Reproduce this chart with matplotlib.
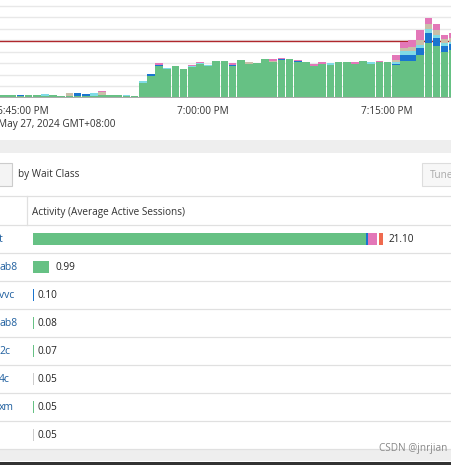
import matplotlib
matplotlib.use("Agg")
import matplotlib.pyplot as plt
import numpy as np

plt.rcParams['font.family'] = ['Open Sans', 'DejaVu Sans']

GREEN, BLUE, CYAN, PINK, RED, TAN, ORANGE = '#66c184', '#1a75cf', '#7fdbe6', '#e377b8', '#ef6a4f', '#c9bfa8', '#f5b14c'

# top chart: stacked average active sessions per interval
cpu = [0.23,0.25,0.2,0.25,0.25,0.2,0.25,0.2,0.2,0.2,0.2,0.2,0.25,0.3,0.25,0.15,0.15,1.3,1.94,2.75,2.5,2.8,2.55,2.65,2.95,2.75,3.2,3.2,2.75,3.3,2.95,3.0,3.4,3.1,3.3,3.4,3.1,3.1,2.8,2.95,2.85,3.1,3.1,2.95,3.2,2.95,3.1,3.1,2.85,3.2,3.2,3.75,4.8,4.5,4.0,4.2]
userio = [0,0,0.1,0,0,0,0,0,0,0.25,0.15,0,0,0,0,0,0,0,0.17,0.08,0,0,0,0.08,0,0,0,0,0.08,0,0,0,0,0,0.05,0,0.08,0,0,0,0,0,0,0,0,0,0,0,0.08,0.55,0.55,0.55,0.8,0.7,0.5,0.5]
other = [0,0,0,0,0,0.15,0,0,0,0,0,0.2,0.05,0,0,0.1,0,0.2,0,0.05,0.12,0,0,0.05,0.05,0.12,0,0,0.05,0,0,0,0,0,0,0,0,0,0,0,0.15,0,0,0,0,0.2,0,0,0.2,0.3,0.3,0.3,0.4,0.3,0.3,0.2]
conc = [0,0,0,0,0,0,0,0,0.2,0,0,0,0.2,0,0,0,0,0,0,0,0,0,0,0,0,0,0,0,0,0,0.15,0,0,0.12,0,0,0,0,0,0,0,0,0,0,0,0,0,0,0.2,0.25,0.4,0.4,0.45,0.4,0.3,0.3]
pink = [0,0,0,0,0,0,0,0,0,0,0,0,0.15,0,0,0,0,0,0,0.15,0,0,0,0.12,0.15,0,0,0,0.15,0,0,0,0,0.12,0.1,0,0.12,0,0.15,0.15,0,0,0,0.15,0,0,0.15,0,0.4,0.6,0.55,0.9,0.5,0.5,0.4,0.4]

W, H = 452, 465
fig = plt.figure(figsize=(W/100, H/100), dpi=100)

def fax(top, bottom, left=0, right=W):
    return fig.add_axes([left/W, 1-bottom/H, (right-left)/W, (bottom-top)/H])

ax = fax(0, 98)
x = np.arange(len(cpu))
b = np.zeros(len(cpu))
for vals, c in [(cpu, GREEN), (userio, BLUE), (other, CYAN), (conc, TAN), (pink, PINK)]:
    ax.bar(x, vals, width=0.94, bottom=b, color=c, zorder=3)
    b += np.array(vals)
ax.set_xlim(-0.5, 54.9)
ax.set_ylim(0, 8.5)
for g in np.arange(1, 8.5, 1):
    ax.axhline(g, color='#e8e8e8', lw=1, zorder=1)
ax.axhline(4.97, color='#b0282d', lw=1, zorder=2)
ax.axhline(0, color='#aaaaaa', lw=1.5, zorder=4)
ax.axis('off')

o = fax(98, H)
o.set_xlim(0, W); o.set_ylim(H-98, 0)
o.axis('off')
def T(px, py, s, **kw):
    o.text(px, py-98, s, va='center', **kw)
def R(x0, y0, x1, y1, **kw):
    o.add_patch(plt.Rectangle((x0, y0-98), x1-x0, y1-y0, **kw))

fs = 7.2
T(-3, 111, '6:45:00 PM', fontsize=fs, color='#333')
T(203, 111, '7:00:00 PM', fontsize=fs, color='#333', ha='center')
T(387, 111, '7:15:00 PM', fontsize=fs, color='#333', ha='center')
T(-2, 124, 'May 27, 2024 GMT+08:00', fontsize=fs, color='#333')
R(0, 140, W, 153, color='#eeeeee', lw=0)
R(-5, 163, 12, 186, facecolor='#f4f4f4', edgecolor='#cccccc', lw=0.8)
T(18, 175, 'by Wait Class', fontsize=fs, color='#333')
R(422, 163, 460, 186, facecolor='#f7f7f7', edgecolor='#dddddd', lw=0.8)
T(430, 175, 'Tune', fontsize=fs, color='#aaaaaa')

for yl in [196, 225, 253, 281, 309, 337, 365, 393, 421, 449]:
    o.plot([0, W], [yl-98, yl-98], color='#e0e0e0', lw=0.9)
o.plot([27, 27], [196-98, 225-98], color='#e0e0e0', lw=0.9)
T(32, 212, 'Activity (Average Active Sessions)', fontsize=fs, color='#333')

row_labels = ['t', 'ab8', 'vvc', 'ab8', '2c', '4c', 'xm', '']
row_values = [21.10, 0.99, 0.10, 0.08, 0.07, 0.05, 0.05, 0.05]
row_colors = [GREEN, GREEN, BLUE, GREEN, GREEN, '#cccccc', GREEN, '#cccccc']
row1_segments = [(20.45, GREEN), (0.12, BLUE), (0.55, PINK), (0.1, 'white'), (0.25, RED)]
scale = 16.3
for i, (lab, v, c) in enumerate(zip(row_labels, row_values, row_colors)):
    yc = 239 + 28*i
    T(-1, yc, lab, fontsize=fs+0.3, color='#1f5f9f')
    if i == 0:
        x0 = 33
        for sv, sc in row1_segments:
            R(x0, yc-6, x0+sv*scale, yc+6, color=sc, lw=0)
            x0 += sv*scale
        T(x0+6, yc, f'{v:.2f}', fontsize=fs, color='#222')
    elif i == 1:
        R(33, yc-6, 33+v*scale, yc+6, color=c, lw=0)
        T(33+v*scale+6, yc, f'{v:.2f}', fontsize=fs, color='#222')
    else:
        R(33, yc-6, 34.2, yc+6, color=c, lw=0)
        T(38, yc, f'{v:.2f}', fontsize=fs, color='#222')

R(0, 450, W, 461, color='#eeeeee', lw=0)
R(0, 462, W, 466, color='#333333', lw=0)
T(379, 448, 'CSDN @jnrjian', fontsize=7.2, color='#888888')

fig.savefig('out.png', dpi=100)
